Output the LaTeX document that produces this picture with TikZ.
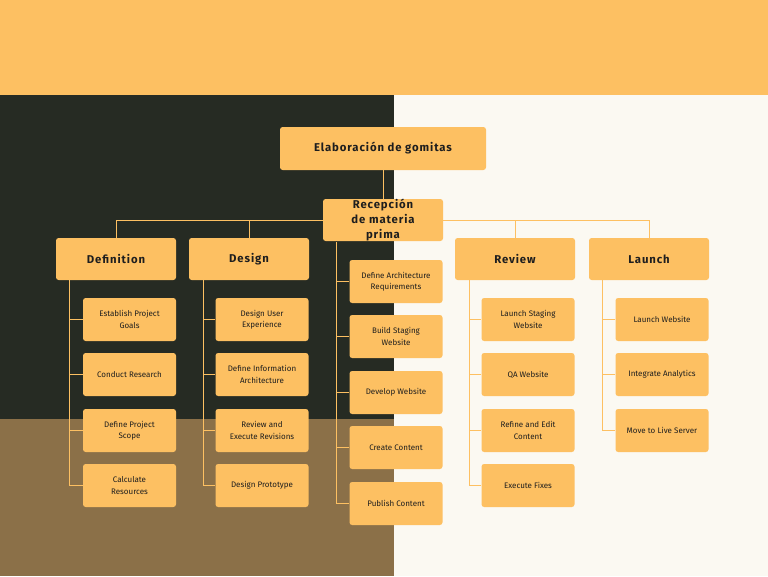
\documentclass[tikz,border=0pt]{standalone}
\usepackage{fontspec}
\setmainfont{Fira Sans}
\definecolor{orng}{HTML}{FDC062}
\definecolor{dark}{HTML}{262B23}
\definecolor{brwn}{HTML}{8B7048}
\definecolor{crm}{HTML}{FBF9F2}
\definecolor{txt}{HTML}{1E1E1E}
\begin{document}
\begin{tikzpicture}[x=0.75pt,y=-0.75pt,
  box/.style={fill=orng,rounded corners=2pt,inner sep=0pt,align=center,text=txt},
  head/.style={box,minimum width=90pt,minimum height=31.5pt,font=\bfseries\fontsize{8.5}{11.2}\selectfont},
  leaf/.style={box,minimum width=69.75pt,minimum height=32.25pt,font=\fontsize{6}{8.5}\selectfont},
  conn/.style={draw=orng,line width=0.6pt}]
\useasboundingbox (0,0) rectangle (768,576);
\fill[orng] (0,0) rectangle (768,95);
\fill[dark] (0,95) rectangle (394,419);
\fill[brwn] (0,419) rectangle (394,576);
\fill[crm] (394,95) rectangle (768,576);
% root and second
\node[head,minimum width=154.5pt,minimum height=32.25pt] (root) at (383,148.5) {\addfontfeature{LetterSpace=8}Elaboración de gomitas};
\node[head,text width=80pt] (rec) at (383,220) {\addfontfeature{LetterSpace=8}Recepción\\de materia\\prima};
\node[head] (def) at (116,259) {\addfontfeature{LetterSpace=8}Definition};
\node[head] (des) at (249,259) {\addfontfeature{LetterSpace=8}Design};
\node[head] (rev) at (515,259) {\addfontfeature{LetterSpace=8}Review};
\node[head] (lau) at (649,259) {\addfontfeature{LetterSpace=8}Launch};
\draw[conn] (root.south) -- (rec.north);
\coordinate (hl) at (116,220);
\coordinate (hr) at (649,220);
\draw[conn] (rec.west) -- (hl) -- (def.north);
\draw[conn] (rec.west -| des.north) -- (des.north);
\draw[conn] (rec.east) -- (hr) -- (lau.north);
\draw[conn] (rec.east -| rev.north) -- (rev.north);
% Definition children
\node[leaf] (d1) at (129.5,319.5) {Establish Project\\Goals};
\node[leaf] (d2) at (129.5,374.5) {Conduct Research};
\node[leaf] (d3) at (129.5,430.5) {Define Project\\Scope};
\node[leaf] (d4) at (129.5,485.5) {Calculate\\Resources};
\coordinate (dv) at (69,280);
\draw[conn] (dv) |- (d4.west);
\foreach \n in {d1,d2,d3}{\draw[conn] (\n.west) -- (\n.west -| dv);}
% Design children
\node[leaf] (e1) at (262,319.5) {Design User\\Experience};
\node[leaf] (e2) at (262,374.5) {Define Information\\Architecture};
\node[leaf] (e3) at (262,430.5) {Review and\\Execute Revisions};
\node[leaf] (e4) at (262,485.5) {Design Prototype};
\coordinate (ev) at (203,280);
\draw[conn] (ev) |- (e4.west);
\foreach \n in {e1,e2,e3}{\draw[conn] (\n.west) -- (\n.west -| ev);}
% Recepcion children
\node[leaf] (r1) at (396,281.5) {Define Architecture\\Requirements};
\node[leaf] (r2) at (396,336.5) {Build Staging\\Website};
\node[leaf] (r3) at (396,392.5) {Develop Website};
\node[leaf] (r4) at (396,447.5) {Create Content};
\node[leaf] (r5) at (396,503.5) {Publish Content};
\coordinate (rv) at (336,242);
\draw[conn] (rv) |- (r5.west);
\foreach \n in {r1,r2,r3,r4}{\draw[conn] (\n.west) -- (\n.west -| rv);}
% Review children
\node[leaf] (v1) at (528,319.5) {Launch Staging\\Website};
\node[leaf] (v2) at (528,374.5) {QA Website};
\node[leaf] (v3) at (528,430.5) {Refine and Edit\\Content};
\node[leaf] (v4) at (528,485.5) {Execute Fixes};
\coordinate (vv) at (469,280);
\draw[conn] (vv) |- (v4.west);
\foreach \n in {v1,v2,v3}{\draw[conn] (\n.west) -- (\n.west -| vv);}
% Launch children
\node[leaf] (l1) at (662,319.5) {Launch Website};
\node[leaf] (l2) at (662,374.5) {Integrate Analytics};
\node[leaf] (l3) at (662,430.5) {Move to Live Server};
\coordinate (lv) at (602,280);
\draw[conn] (lv) |- (l3.west);
\foreach \n in {l1,l2}{\draw[conn] (\n.west) -- (\n.west -| lv);}
\end{tikzpicture}
\end{document}
